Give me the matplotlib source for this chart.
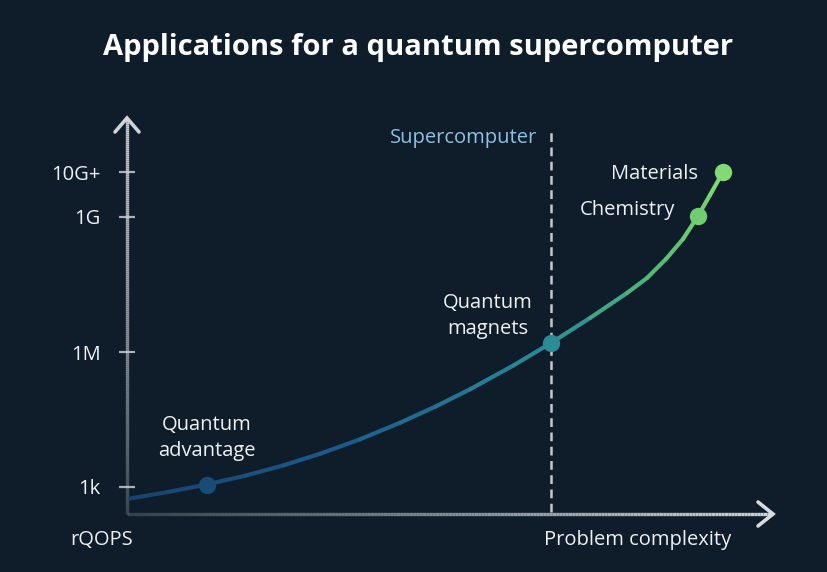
import numpy as np
import matplotlib
matplotlib.use("Agg")
import matplotlib.pyplot as plt
from matplotlib.collections import LineCollection
from matplotlib.colors import LinearSegmentedColormap

# ---- data ----
title = "Applications for a quantum supercomputer"
curve_x = [0.46, 6.35, 12.31, 18.27, 24.15, 29.88, 36.07, 42.26, 47.83, 53.1, 59.75,
           65.63, 71.67, 77.4, 80.5, 83.44, 86.07, 88.39, 90.25, 92.26]
curve_log = [2.744, 2.889, 3.056, 3.249, 3.478, 3.738, 4.06, 4.427, 4.793, 5.171, 5.696,
             6.2, 6.756, 7.311, 7.644, 8.067, 8.511, 9.022, 9.489, 10.0]
point_names = ["Quantum\nadvantage", "Quantum\nmagnets", "Chemistry", "Materials"]
point_x = [12.31, 65.63, 88.39, 92.26]
point_log = [3.05, 6.2, 9.02, 10.0]
tick_vals = [1e3, 1e6, 1e9, 1e10]
tick_labels = ["1k", "1M", "1G", "10G+"]
supercomputer_x = 65.63
x_label = "Problem complexity"
y_label = "rQOPS"

BG = "#0f1c2a"
FONT = "Open Sans"
plt.rcParams['font.family'] = [FONT, 'DejaVu Sans']

W, H = 828, 572
fig = plt.figure(figsize=(W / 100, H / 100), dpi=100, facecolor=BG)
L, R, T, B = 127, 773, 118, 514
ax = fig.add_axes([L / W, 1 - B / H, (R - L) / W, (B - T) / H])
ax.set_facecolor(BG)
ax.patch.set_alpha(0)
ax.set_yscale('log')
ax.set_xlim(0, 100)
ax.set_ylim(10 ** 2.4, 10 ** 11.2)
for s in ax.spines.values():
    s.set_visible(False)
ax.set_xticks([])
ax.set_yticks(tick_vals)
ax.set_yticklabels(tick_labels)
ax.yaxis.set_minor_locator(matplotlib.ticker.NullLocator())
ax.tick_params(axis='y', direction='inout', length=12, width=1.6, color='#aab1b8',
               labelcolor='#eef1f3', labelsize=14.5, pad=13)

# axis lines with gradient
n = 200
t = np.linspace(0, 1, n)
segs_y = [[(0, t[i]), (0, t[i + 1])] for i in range(n - 1)]
cols_y = [(0.80, 0.82, 0.84, 0.22 + 0.78 * t[i] ** 0.8) for i in range(n - 1)]
ax.add_collection(LineCollection(segs_y, colors=cols_y, linewidths=2.4,
                                 transform=ax.transAxes, clip_on=False, capstyle='butt'))
segs_x = [[(t[i], 0), (t[i + 1], 0)] for i in range(n - 1)]
cols_x = [(0.82, 0.84, 0.86, 0.2 + 0.8 * t[i]) for i in range(n - 1)]
ax.add_collection(LineCollection(segs_x, colors=cols_x, linewidths=2.4,
                                 transform=ax.transAxes, clip_on=False, capstyle='butt'))
# arrow heads
aw = R - L
ah = B - T
ax.plot([-12 / aw, 0, 12 / aw], [1 - 14 / ah, 1, 1 - 14 / ah], color='#d0d4d8', lw=2.6,
        transform=ax.transAxes, clip_on=False, solid_capstyle='round', solid_joinstyle='miter')
ax.plot([1 - 15 / aw, 1, 1 - 15 / aw], [12 / ah, 0, -12 / ah], color='#d8dcdf', lw=2.6,
        transform=ax.transAxes, clip_on=False, solid_capstyle='round', solid_joinstyle='miter')

# supercomputer dashed line
ax.plot([supercomputer_x, supercomputer_x], [10 ** 2.44, 10 ** 10.98], color='#c4c9ce',
        lw=1.8, dashes=(3.5, 2.2))
ax.text(63.47, 10 ** 10.76, "Supercomputer", color='#8cc3e6', fontsize=14.5,
        ha='right', va='center')

# gradient curve
cmap = LinearSegmentedColormap.from_list('q', [(0.0, '#17426c'), (0.35, '#1c5a8a'),
                                              (0.70, '#2a8a97'), (0.90, '#58bd70'),
                                              (1.0, '#86dc74')])
xs = np.array(curve_x)
ys = 10 ** np.array(curve_log)
pts = np.column_stack([xs, ys])
segs = [[pts[i], pts[i + 1]] for i in range(len(pts) - 1)]
mid = [(xs[i] + xs[i + 1]) / 2 / 93 for i in range(len(pts) - 1)]
lc = LineCollection(segs, colors=[cmap(m) for m in mid], linewidths=3.0, capstyle='round',
                    joinstyle='round')
ax.add_collection(lc)
for i, (px, pl) in enumerate(zip(point_x, point_log)):
    ax.plot(px, 10 ** pl, 'o', ms=11.5, color=cmap(px / 93), zorder=5, clip_on=False)

# labels
TXT = '#eef1f3'
ax.text(point_x[0], 10 ** 4.09, point_names[0], color=TXT, fontsize=14.5, ha='center',
        va='center', linespacing=1.35)
ax.text(55.85, 10 ** 6.8, point_names[1], color=TXT, fontsize=14.5, ha='center',
        va='center', linespacing=1.35)
ax.text(84.88, 10 ** 9.16, point_names[2], color=TXT, fontsize=14.5, ha='right',
        va='center')
ax.text(88.39, 10 ** 9.95, point_names[3], color=TXT, fontsize=14.5, ha='right',
        va='center')

fig.text(418 / W, 1 - 48 / H, title, color='white', fontsize=21, fontweight='bold',
         ha='center', va='center')
fig.text(102 / W, 1 - 540 / H, y_label, color=TXT, fontsize=14.5, ha='center', va='center')
fig.text(638 / W, 1 - 540 / H, x_label, color=TXT, fontsize=14.5, ha='center', va='center')

fig.savefig('out.png', dpi=100, facecolor=BG)
